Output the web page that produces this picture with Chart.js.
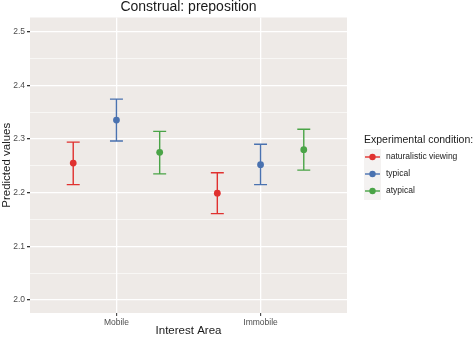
<!DOCTYPE html>
<html>
<head>
<meta charset="utf-8">
<script src="https://cdn.jsdelivr.net/npm/chart.js@4/dist/chart.umd.min.js"></script>
<style>
  html, body { margin: 0; padding: 0; background: #fff; }
  #wrap { width: 474px; height: 338px; }
</style>
</head>
<body>
<div id="wrap"><canvas id="chart" width="474" height="338"></canvas></div>
<script>
// data
const areas = ['Mobile', 'Immobile'];
const conditions = ['naturalistic viewing', 'typical', 'atypical'];
const colors = ['#E0312F', '#4A72B0', '#4AA447'];
const dodge = [-0.3, 0, 0.3];

const naturalMean = [2.255, 2.199];
const naturalLow = [2.215, 2.161];
const naturalHigh = [2.294, 2.237];
const typicalMean = [2.335, 2.252];
const typicalLow = [2.296, 2.215];
const typicalHigh = [2.374, 2.290];
const atypicalMean = [2.275, 2.280];
const atypicalLow = [2.235, 2.242];
const atypicalHigh = [2.314, 2.318];

const majorTicks = [2.0, 2.1, 2.2, 2.3, 2.4, 2.5];
const minorTicks = [2.05, 2.15, 2.25, 2.35, 2.45];

const means = [naturalMean, typicalMean, atypicalMean];
const lows = [naturalLow, typicalLow, atypicalLow];
const highs = [naturalHigh, typicalHigh, atypicalHigh];

const datasets = conditions.map((name, i) => ({
  label: name,
  data: means[i].map((v, j) => ({ x: j + 1 + dodge[i], y: v, lo: lows[i][j], hi: highs[i][j] })),
  backgroundColor: colors[i],
  borderColor: colors[i],
  pointRadius: 3.4,
  pointHoverRadius: 3.4,
  borderWidth: 0
}));

const isMajor = v => majorTicks.some(m => Math.abs(m - v) < 1e-6);

const panelBg = {
  id: 'panelBg',
  beforeDraw(chart) {
    const { ctx, chartArea: a } = chart;
    ctx.save();
    ctx.fillStyle = '#EEEAE7';
    ctx.fillRect(a.left, a.top, a.right - a.left, a.bottom - a.top);
    ctx.restore();
  }
};

const errorBars = {
  id: 'errorBars',
  beforeDatasetsDraw(chart) {
    const { ctx, scales: { x, y } } = chart;
    ctx.save();
    ctx.lineWidth = 1.4;
    chart.data.datasets.forEach(ds => {
      ctx.strokeStyle = ds.borderColor;
      ds.data.forEach(p => {
        const px = x.getPixelForValue(p.x);
        const half = (x.getPixelForValue(p.x + 0.045) - px);
        const yl = y.getPixelForValue(p.lo);
        const yh = y.getPixelForValue(p.hi);
        ctx.beginPath();
        ctx.moveTo(px, yl); ctx.lineTo(px, yh);
        ctx.moveTo(px - half, yl); ctx.lineTo(px + half, yl);
        ctx.moveTo(px - half, yh); ctx.lineTo(px + half, yh);
        ctx.stroke();
      });
    });
    ctx.restore();
  }
};

const extras = {
  id: 'extras',
  afterDraw(chart) {
    const { ctx, chartArea: a } = chart;
    ctx.save();
    ctx.fillStyle = '#1a1a1a';
    ctx.textAlign = 'center';
    ctx.textBaseline = 'middle';
    ctx.font = '14px "Liberation Sans", Arial, sans-serif';
    ctx.fillText('Construal: preposition', (a.left + a.right) / 2, 7);

    // legend
    ctx.textAlign = 'left';
    ctx.font = '10.5px "Liberation Sans", Arial, sans-serif';
    ctx.fillText('Experimental condition:', 364, 140);
    ctx.font = '8.5px "Liberation Sans", Arial, sans-serif';
    chart.data.datasets.forEach((ds, i) => {
      const cy = 157 + i * 17;
      ctx.fillStyle = '#F4F2F1';
      ctx.fillRect(364, cy - 8, 17, 17);
      ctx.strokeStyle = ds.borderColor;
      ctx.lineWidth = 1.4;
      ctx.beginPath();
      ctx.moveTo(365, cy); ctx.lineTo(380, cy);
      ctx.stroke();
      ctx.fillStyle = ds.backgroundColor;
      ctx.beginPath();
      ctx.arc(372.5, cy, 3.2, 0, Math.PI * 2);
      ctx.fill();
      ctx.fillStyle = '#1a1a1a';
      ctx.fillText(ds.label, 386, cy);
    });
    ctx.restore();
  }
};

new Chart(document.getElementById('chart'), {
  type: 'scatter',
  data: { datasets },
  plugins: [panelBg, errorBars, extras],
  options: {
    responsive: false,
    animation: false,
    layout: { padding: { top: 17.5, right: 127, left: 0, bottom: 0 } },
    plugins: { legend: { display: false }, tooltip: { enabled: false }, title: { display: false } },
    scales: {
      x: {
        type: 'linear',
        min: 0.4,
        max: 2.6,
        afterBuildTicks: s => { s.ticks = areas.map((_, i) => ({ value: i + 1 })); },
        afterFit: s => { s.height = 25; },
        ticks: {
          callback: v => areas[Math.round(v) - 1],
          color: '#4d4d4d',
          font: { size: 8.5, family: '"Liberation Sans", Arial, sans-serif' },
          padding: 2,
          maxRotation: 0
        },
        grid: { color: '#ffffff', lineWidth: 1.3, drawTicks: true, tickLength: 3, tickColor: '#333333', tickWidth: 1 },
        border: { display: false },
        title: {
          display: true, text: 'Interest Area', color: '#1a1a1a',
          font: { size: 11.5, family: '"Liberation Sans", Arial, sans-serif' },
          padding: { top: 0, bottom: 0 }
        }
      },
      y: {
        min: 1.976,
        max: 2.526,
        afterBuildTicks: s => {
          s.ticks = majorTicks.concat(minorTicks).sort((p, q) => p - q).map(v => ({ value: v }));
        },
        afterFit: s => { s.width = 30; },
        ticks: {
          callback: v => isMajor(v) ? v.toFixed(1) : '',
          color: '#4d4d4d',
          font: { size: 8.5, family: '"Liberation Sans", Arial, sans-serif' },
          padding: 2
        },
        grid: {
          color: '#ffffff',
          lineWidth: c => isMajor(c.tick.value) ? 1.3 : 0.6,
          tickLength: 3,
          tickColor: c => isMajor(c.tick.value) ? '#333333' : 'rgba(0,0,0,0)'
        },
        border: { display: false },
        title: {
          display: true, text: 'Predicted values', color: '#1a1a1a',
          font: { size: 11.5, family: '"Liberation Sans", Arial, sans-serif' },
          padding: { top: 0, bottom: 0 }
        }
      }
    }
  }
});
</script>
</body>
</html>
